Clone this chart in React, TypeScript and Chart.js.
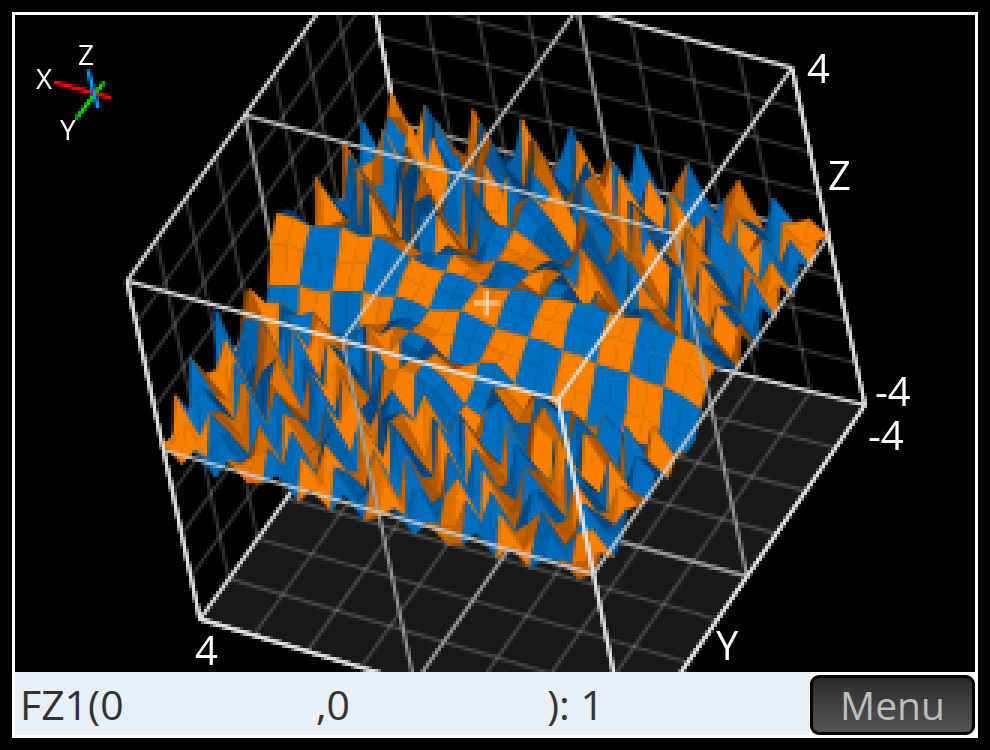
import React, { useEffect, useRef } from "react";
import Chart from "chart.js/auto";

// Surface heights FZ1(x, y), in tenths.
// Rows run y = -4 .. 4, columns run x = 4 .. -4.
const heights: number[][] = [
  [ 7,-3, 6,-2,-4, 8,-2,-1, 9,-3, 2,10,-2, 5,-1,10,-4, 3, 9,-2, 3, 8,-3, 6, 1, 3, 0],
  [ 2, 5,-3, 7, 1,-3, 9, 0,-4, 8, 1,-3,11, 0, 8,-2, 6,-3, 2, 7,-3, 5, 2,-2, 4, 0, 2],
  [-2, 8, 3,-4,10,-1, 2,11,-3, 1,12,-2, 3,10,-4, 9, 1,-2, 8, 0, 5,-2, 6, 3,-3, 4,-1],
  [ 9,-3, 1,11,-2, 4,-3, 3,12,-4, 2,13,-1, 4,11,-3, 7, 0,-3, 9,-2, 7,-3, 2, 6,-2, 3],
  [ 1, 4,12,-3, 3,13,-2,-1,10, 2,-3,11, 6,-2,12, 3,-4,10, 2,-3, 8, 1,-2, 7,-1, 5,-2],
  [10,-4, 2, 6,13,-2, 5,14,-1, 3,12, 4, 8,13, 2, 8, 5,-3,11, 1,-2, 9, 4,-3, 6, 0, 4],
  [-1,11, 5,-3, 8,14, 1,-2,13, 6,-1,10,13, 8, 1,12, 1, 6,-3,10, 4,-2, 8, 1,-2, 7,-1],
  [ 3,-2,12, 2,-4, 9,15, 4,-3,12, 8, 6,13,10, 2, 6,13,-2, 4, 8,-3, 9, 0, 7, 3,-3, 5],
  [11, 2,-3,13, 5,-2,11,14, 2, 3,12,11,11, 9, 6, 5,11, 6,-3,11, 2,-2,10,-2, 6, 1,-2],
  [ 0,12, 6,-2,14, 3, 1,12,13, 6, 6,11,10, 9, 8, 8, 4,12, 1,-2,10, 5,-3, 8, 2,-3, 7],
  [ 5,-2, 3, 4,-1, 5, 6, 4, 6,10, 9, 8,10,10, 9,11,11, 3, 9, 4,-1, 8, 2,-1, 7, 3,-1],
  [12,10, 8,12,14,10,12,12,10,11,12,10, 9,11,10, 8,12,12, 4,11, 5,11, 3,10, 2, 7, 3],
  [14,14,13,14,15,14,15,14,12,11,11,11,10,10,11,12,11,12,12,13,12,12,13,12,11,10, 6],
  [10,11,10,11,10,11,12,12,11,10,10,10,10,10,10, 9,10,10,11,10,10,10,10,10, 9, 8, 5],
  [ 3, 4, 5, 5, 6, 7, 8, 8, 9, 9, 8, 9,10, 9, 8, 8, 8, 8, 7, 7, 6, 6, 6, 5, 5, 4, 2],
  [-3,-2,-3,-1,-2, 0, 2, 4, 6, 8, 8, 7, 7, 7, 7, 6, 6, 5, 4, 2, 2, 1, 0, 0,-1,-1,-2],
  [ 8, 6, 7, 5, 7, 3, 1, 7, 6, 9, 9, 8, 4, 4, 6, 7, 3, 2, 1,-1,-2,-2,-3,-3,-3,-3,-2],
  [ 3,12,-2, 8, 1, 9, 3,-3,11, 5,10, 8, 9, 6, 3, 1, 5, 1, 6, 3, 4,-3, 5, 2,-3, 6, 0],
  [-2, 8, 9,-3, 9,-2, 8, 2,-3,10,-1, 9,10, 7, 2, 0, 8, 1, 2, 7,-2, 7, 3,-4, 8, 1,-2],
  [12,-3, 2,10,-2, 6, 0, 7,-3, 2, 9,10,10, 7, 2,-1, 6, 9,-3, 6, 3,-3, 7, 0,-3, 5, 2],
  [ 1, 9,-3, 4, 8,-3, 7,-2, 8,-3, 3, 8, 2, 9, 1, 7, 1,-3, 8, 0,-4, 8, 0,-3, 6, 0,-1],
  [ 3,-2, 8,-3, 5, 1,-2, 8, 0, 7,-4, 5, 7,-3, 8,-3, 9, 2,-3, 7, 2,-4, 7, 1,-3, 4, 1],
  [10, 2,-3, 7,-2, 7, 2,-3, 7,-3, 6,-2, 8, 2,-3,10,-3, 7,-1,-3, 6, 1,-4, 6, 0,-2, 3],
  [ 0, 7, 2,-3, 8,-3, 6,-2, 1, 6,-3, 7,-3, 9, 0,-3, 8,-2, 6,-3,-1, 5,-2,-3, 5, 0,-1],
  [ 7,-2, 5, 1,-3, 5,-3, 6,-3, 5, 0,-3, 7,-4, 8,-2, 1, 6,-3, 5,-3, 0, 4,-3, 1, 3,-2],
  [-1, 5,-3, 4,-2, 1, 4,-3, 4,-2, 4,-3, 1, 5,-3, 6,-3,-2, 5,-3, 4,-3, 1, 3,-3,-1, 2],
  [ 2,-2, 2,-3, 2,-2,-1, 2,-3, 1,-3, 2,-3,-1, 2,-3, 1,-3,-2, 2,-3, 1,-3, 0, 1,-2, 0],
];

const gridTicks = [-4, -3, -2, -1, 0, 1, 2, 3, 4];
const boxTicks = [-4, 0, 4];
const cursorPoint = [0, 0, 1];

// Orientation triad at the top left: [from x, from y, to x, to y]
const triadX = [54, 82, 111, 98];
const triadY = [76, 119, 104, 82];
const triadZ = [88, 70, 98, 108];

// Where the box corners land on the page.
const VIEW = {
  top: { D: [363, -51], C: [792, 68], A: [127, 281], B: [558, 400] },
  bot: { D: [431, 297], C: [865, 405], A: [200, 619], B: [629, 748] },
};

function project(x: number, y: number, z: number) {
  const u = (4 - x) / 8, v = (y + 4) / 8, w = (z + 4) / 8;
  const mix = (f: any, i: number) =>
    (1 - v) * ((1 - u) * f.D[i] + u * f.C[i]) + v * ((1 - u) * f.A[i] + u * f.B[i]);
  return {
    x: w * mix(VIEW.top, 0) + (1 - w) * mix(VIEW.bot, 0),
    y: w * mix(VIEW.top, 1) + (1 - w) * mix(VIEW.bot, 1),
  };
}

const ORANGE = { dark: [130, 60, 0], bright: [248, 128, 0] };
const BLUE = { dark: [0, 52, 98], bright: [0, 110, 190] };

function shade(r: number, c: number) {
  const step = 8 / (heights.length - 1);
  const z = (a: number, b: number) => heights[a][b] / 10;
  const zx = -((z(r, c + 1) + z(r + 1, c + 1) - z(r, c) - z(r + 1, c)) / 2) / step;
  const zy = (z(r + 1, c) + z(r + 1, c + 1) - z(r, c) - z(r, c + 1)) / 2 / step;
  const dot = Math.abs(0.42 * zx - 0.565 * zy + 0.71) / Math.hypot(zx, zy, 1);
  const t = Math.min(1, Math.max(0, (dot - 0.05) / 0.72));
  const isOrange = (Math.floor(r / 2) + Math.floor(c / 2)) % 2 === 0;
  const pal = isOrange ? ORANGE : BLUE;
  const col = pal.dark.map((d, i) => Math.round(d + (pal.bright[i] - d) * t));
  return `rgb(${col[0]},${col[1]},${col[2]})`;
}

function buildDatasets() {
  const out: any[] = [];
  const line = (data: any[], color: string, width = 3.4) =>
    out.push({ data, borderColor: color, borderWidth: width, fill: false, pointRadius: 0, tension: 0 });
  const seg = (a: number[], b: number[], color: string) =>
    line([project(a[0], a[1], a[2]), project(b[0], b[1], b[2])], color);

  // floor
  const floor = [project(4, -4, -4), project(-4, -4, -4), project(-4, 4, -4), project(4, 4, -4), project(4, -4, -4)];
  out.push({ data: floor, fill: "shape", backgroundColor: "#181818", borderColor: "#181818", borderWidth: 1, pointRadius: 0, tension: 0 });

  // dim back walls and floor grid
  const dim = "rgba(255,255,255,0.2)";
  for (const t of gridTicks) {
    line([project(t, -4, -4), project(t, 4, -4)], dim);
    line([project(-4, t, -4), project(4, t, -4)], dim);
    line([project(t, -4, -4), project(t, -4, 4)], dim);
    line([project(-4, -4, t), project(4, -4, t)], dim);
    line([project(4, t, -4), project(4, t, 4)], dim);
    line([project(4, -4, t), project(4, 4, t)], dim);
  }

  const edge = "rgba(228,228,228,0.95)";
  const mid = "rgba(165,165,165,0.9)";
  const lightMid = "rgba(205,205,205,0.9)";

  // brighter outline and centre lines of the three back faces
  for (const t of boxTicks) {
    const color = t === 0 ? mid : edge;
    seg([t, -4, -4], [t, 4, -4], color);
    seg([-4, t, -4], [4, t, -4], color);
    seg([t, -4, -4], [t, -4, 4], color);
    seg([4, t, -4], [4, t, 4], color);
  }
  seg([-4, -4, 0], [4, -4, 0], mid);
  seg([4, -4, 0], [4, 4, 0], mid);

  // surface, back to front
  const n = heights.length - 1;
  const at = (r: number, c: number) => project(4 - (c * 8) / n, -4 + (r * 8) / n, heights[r][c] / 10);
  for (let r = 0; r < n; r++) {
    for (let c = 0; c < n; c++) {
      const col = shade(r, c);
      out.push({
        data: [at(r, c), at(r, c + 1), at(r + 1, c + 1), at(r + 1, c), at(r, c)],
        fill: "shape", backgroundColor: col, borderColor: col, borderWidth: 1.5, pointRadius: 0, tension: 0,
      });
    }
  }

  // front box lines, drawn over the surface
  for (const t of boxTicks) {
    seg([t, -4, 4], [t, 4, 4], t === 0 ? lightMid : edge);
    seg([-4, t, 4], [4, t, 4], t === 0 ? lightMid : edge);
    seg([t, 4, -4], [t, 4, 4], t === 0 ? mid : edge);
    seg([-4, t, -4], [-4, t, 4], t === 0 ? mid : edge);
  }
  seg([4, 4, 0], [-4, 4, 0], lightMid);
  seg([-4, 4, 0], [-4, -4, 0], lightMid);
  seg([4, 4, -4], [-4, 4, -4], edge);
  seg([-4, 4, -4], [-4, -4, -4], edge);

  // trace cursor
  const cur = project(cursorPoint[0], cursorPoint[1], cursorPoint[2]);
  line([{ x: cur.x - 13, y: cur.y }, { x: cur.x + 13, y: cur.y }], "rgba(255,240,225,0.85)");
  line([{ x: cur.x, y: cur.y - 13 }, { x: cur.x, y: cur.y + 13 }], "rgba(255,240,225,0.85)");

  // triad
  const tri = (s: number[], color: string) => line([{ x: s[0], y: s[1] }, { x: s[2], y: s[3] }], color, 4);
  tri(triadY, "#10e010");
  tri(triadX, "#ff0000");
  tri(triadZ, "#0a96ff");

  out.forEach((d, i) => { d.order = out.length - i; });
  return out;
}

const labelFont = '"Open Sans", sans-serif';

function Label({ left, top, size = 40, color = "#fff", children }: any) {
  return (
    <div style={{ position: "absolute", left, top, fontSize: size, lineHeight: "1em", fontFamily: labelFont, color, whiteSpace: "pre" }}>
      {children}
    </div>
  );
}

export default function App() {
  const ref = useRef<HTMLCanvasElement>(null);
  useEffect(() => {
    const chart = new Chart(ref.current as HTMLCanvasElement, {
      type: "line",
      data: { datasets: buildDatasets() },
      options: {
        animation: false,
        responsive: false,
        devicePixelRatio: 1 / 3,
        events: [],
        layout: { padding: 0 },
        scales: {
          x: { type: "linear", display: false, min: 15, max: 975 },
          y: { type: "linear", display: false, min: 15, max: 672, reverse: true },
        },
        plugins: { legend: { display: false }, tooltip: { enabled: false } },
      },
    } as any);
    return () => chart.destroy();
  }, []);

  return (
    <div style={{ position: "fixed", left: 0, top: 0, width: 990, height: 750, background: "#000", overflow: "hidden" }}>
      <div style={{ position: "absolute", left: 12, top: 12, width: 966, height: 726, background: "#fff" }} />
      <div style={{ position: "absolute", left: 15, top: 15, width: 960, height: 657, background: "#000" }} />
      <canvas
        ref={ref}
        width={960}
        height={657}
        style={{ position: "absolute", left: 15, top: 15, width: 960, height: 657, imageRendering: "pixelated" }}
      />
      <Label left={807} top={48}>4</Label>
      <Label left={828} top={155}>Z</Label>
      <Label left={875} top={371}>-4</Label>
      <Label left={868} top={415}>-4</Label>
      <Label left={195} top={630}>4</Label>
      <Label left={716} top={625}>Y</Label>
      <Label left={36} top={64} size={28}>X</Label>
      <Label left={78} top={40} size={28}>Z</Label>
      <Label left={60} top={115} size={28}>Y</Label>

      <div style={{ position: "absolute", left: 15, top: 672, width: 795, height: 63, background: "#e8eff5" }} />
      <Label left={20} top={684} size={41} color="#333">FZ1(0</Label>
      <Label left={316} top={684} size={41} color="#333">,0</Label>
      <Label left={547} top={684} size={41} color="#333">): 1</Label>
      <div style={{
        position: "absolute", left: 810, top: 675, width: 165, height: 60, boxSizing: "border-box",
        border: "3px solid #000", borderRadius: 9, background: "linear-gradient(#2b2b2b, #555)",
        color: "#bdbdbd", fontSize: 39, fontFamily: labelFont, textAlign: "center", lineHeight: "54px",
      }}>Menu</div>
    </div>
  );
}
